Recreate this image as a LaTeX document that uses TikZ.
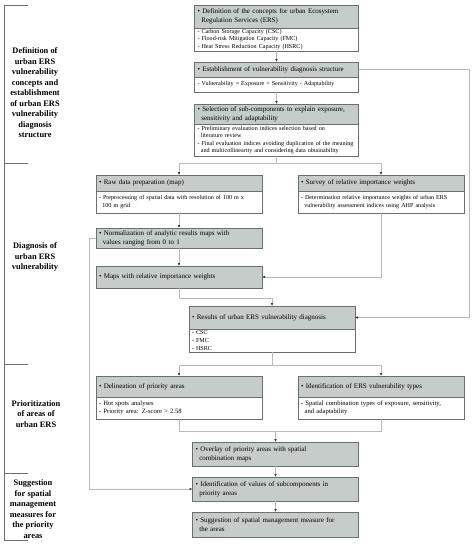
\documentclass[tikz,border=0pt]{standalone}
\usepackage{fontspec}
\setmainfont{Liberation Serif}
\usetikzlibrary{arrows.meta,positioning,calc}
\definecolor{hdrgray}{RGB}{197,204,201}
\definecolor{framegray}{RGB}{110,110,110}
\definecolor{linegray}{RGB}{185,185,185}
\newcommand{\hind}{\hspace*{0.55em}}

\begin{document}
\begin{tikzpicture}[
    x=1pt, y=-1pt,
    >={Latex[length=3pt, width=2.6pt, color=black!80]},
    hdr/.style={
        rectangle, draw=framegray, fill=hdrgray, line width=0.7pt,
        text width=160pt, align=left, inner xsep=3pt, inner ysep=1pt,
        outer sep=0pt, font=\fontsize{7}{9.2}\selectfont
    },
    bodybox/.style={
        hdr, fill=white, font=\fontsize{6.1}{7.6}\selectfont
    },
    narrow/.style={text width=158pt},
    sect/.style={align=center, font=\fontsize{8.4}{10.5}\selectfont\bfseries},
    conn/.style={draw=linegray, line width=0.8pt},
    brkt/.style={draw=framegray, line width=1pt}
]
    \useasboundingbox (0,0) rectangle (474,544);

    % Section bracket and labels
    \draw[brkt] (28,5) -- (4,5) -- (4,540) -- (28,540);
    \foreach \yy in {163,364,473} \draw[brkt] (4,\yy) -- (28,\yy);

    \node[sect] (lab1) at (35,93) {Definition of\\urban ERS\\vulnerability\\concepts and\\establishment\\of urban ERS\\vulnerability\\diagnosis\\structure};
    \node[sect] (lab2) at (35,257) {Diagnosis of\\urban ERS\\vulnerability};
    \node[sect] (lab3) at (36,414) {Prioritization\\of areas of\\urban ERS};
    \node[sect] (lab4) at (33,509) {Suggestion\\for spatial\\management\\measures for\\the priority\\areas};

    % Concept definition and structure
    \node[hdr, narrow, minimum height=23pt, anchor=north] (defh) at (276.5,5) {• Definition of the concepts for urban Ecosystem\\\hind Regulation Services (ERS)};
    \node[bodybox, narrow, minimum height=23pt, below=0pt of defh] (defb) {- Carbon Storage Capacity (CSC)\\- Flood-risk Mitigation Capacity (FMC)\\- Heat Stress Reduction Capacity (HSRC)};

    \node[hdr, narrow, minimum height=15pt, below=11pt of defb] (strh) {• Establishment of vulnerability diagnosis structure};
    \node[bodybox, narrow, minimum height=15pt, below=0pt of strh] (strb) {- Vulnerability = Exposure + Sensitivity - Adaptability};

    \node[hdr, narrow, minimum height=20pt, below=12pt of strb] (selh) {• Selection of sub-components to explain exposure,\\\hind sensitivity and adaptability};
    \node[bodybox, narrow, minimum height=32pt, below=0pt of selh] (selb) {- Preliminary evaluation indices selection based on\\\hind literature review\\- Final evaluation indices avoiding duplication of the meaning\\\hind and multicollinearity and considering data obtainability};

    % Diagnosis
    \node[hdr, minimum height=16pt, anchor=north] (rawh) at (179,175) {• Raw data preparation (map)};
    \node[bodybox, minimum height=22pt, below=0pt of rawh] (rawb) {- Preprocessing of spatial data with resolution of 100 m x\\\hind 100 m grid};

    \node[hdr, minimum height=16pt, anchor=north] (survh) at (381,175) {• Survey of relative importance weights};
    \node[bodybox, minimum height=22pt, below=0pt of survh] (survb) {- Determination relative importance weights of urban ERS\\\hind vulnerability assessment indices using AHP analysis};

    \node[hdr, minimum height=20pt, below=15pt of rawb] (norm) {• Normalization of analytic results maps with\\\hind values ranging from 0 to 1};
    \node[hdr, minimum height=22pt, below=18pt of norm] (maps) {• Maps with relative importance weights};

    \node[hdr, minimum height=23pt, anchor=north] (resh) at (272,306) {• Results of urban ERS vulnerability diagnosis};
    \node[bodybox, minimum height=23pt, below=0pt of resh] (resb) {- CSC\\- FMC\\- HSRC};

    % Prioritization
    \node[hdr, minimum height=21pt, anchor=north] (delh) at (179,376) {• Delineation of priority areas};
    \node[bodybox, minimum height=22pt, below=0pt of delh, font=\fontsize{6.6}{8.4}\selectfont] (delb) {- Hot spots analyses\\- Priority area: Z-score > 2.58};

    \node[hdr, minimum height=21pt, anchor=north] (idth) at (381,376) {• Identification of ERS vulnerability types};
    \node[bodybox, minimum height=22pt, below=0pt of idth, font=\fontsize{6.6}{8.4}\selectfont] (idtb) {- Spatial combination types of exposure, sensitivity,\\\hind and adaptability};

    % Suggestion
    \node[hdr, minimum height=24pt, anchor=north] (over) at (275.5,442) {• Overlay of priority areas with spatial\\\hind combination maps};
    \node[hdr, minimum height=24pt, below=11pt of over] (vals) {• Identification of values of subcomponents in\\\hind priority areas};
    \node[hdr, minimum height=25pt, below=11pt of vals] (sugg) {• Suggestion of spatial management measure for\\\hind the areas};

    % Connectors
    \draw[conn,->] (defb) -- (strh);
    \draw[conn,->] (strb) -- (selh);
    \draw[conn] (selb.south) -- ++(0,7) coordinate (split1);
    \draw[conn,->] (split1) -| (rawh.north);
    \draw[conn,->] (split1) -| (survh.north);
    \draw[conn,->] (strh.east) -- ++(111,0) |- (resh.east);

    \draw[conn,->] (rawb) -- (norm);
    \draw[conn,->] (norm) -- (maps);
    \draw[conn,->] (survb.south) |- (maps.east);
    \draw[conn,->] (norm.west) -- ++(-7,0) |- (vals.west);
    \draw[conn,->] (maps.south) -- ++(0,10) -| (resh.north);

    \draw[conn] (resb.south) -- ++(0,13) coordinate (split2);
    \draw[conn,->] (split2) -| (delh.north);
    \draw[conn,->] (split2) -| (idth.north);

    \draw[conn] (delb.south) -- ++(0,12) coordinate (merge) -| (idtb.south);
    \draw[conn,->] (merge -| over.north) -- (over.north);
    \draw[conn,->] (over) -- (vals);
    \draw[conn,->] (vals) -- (sugg);

\end{tikzpicture}
\end{document}
